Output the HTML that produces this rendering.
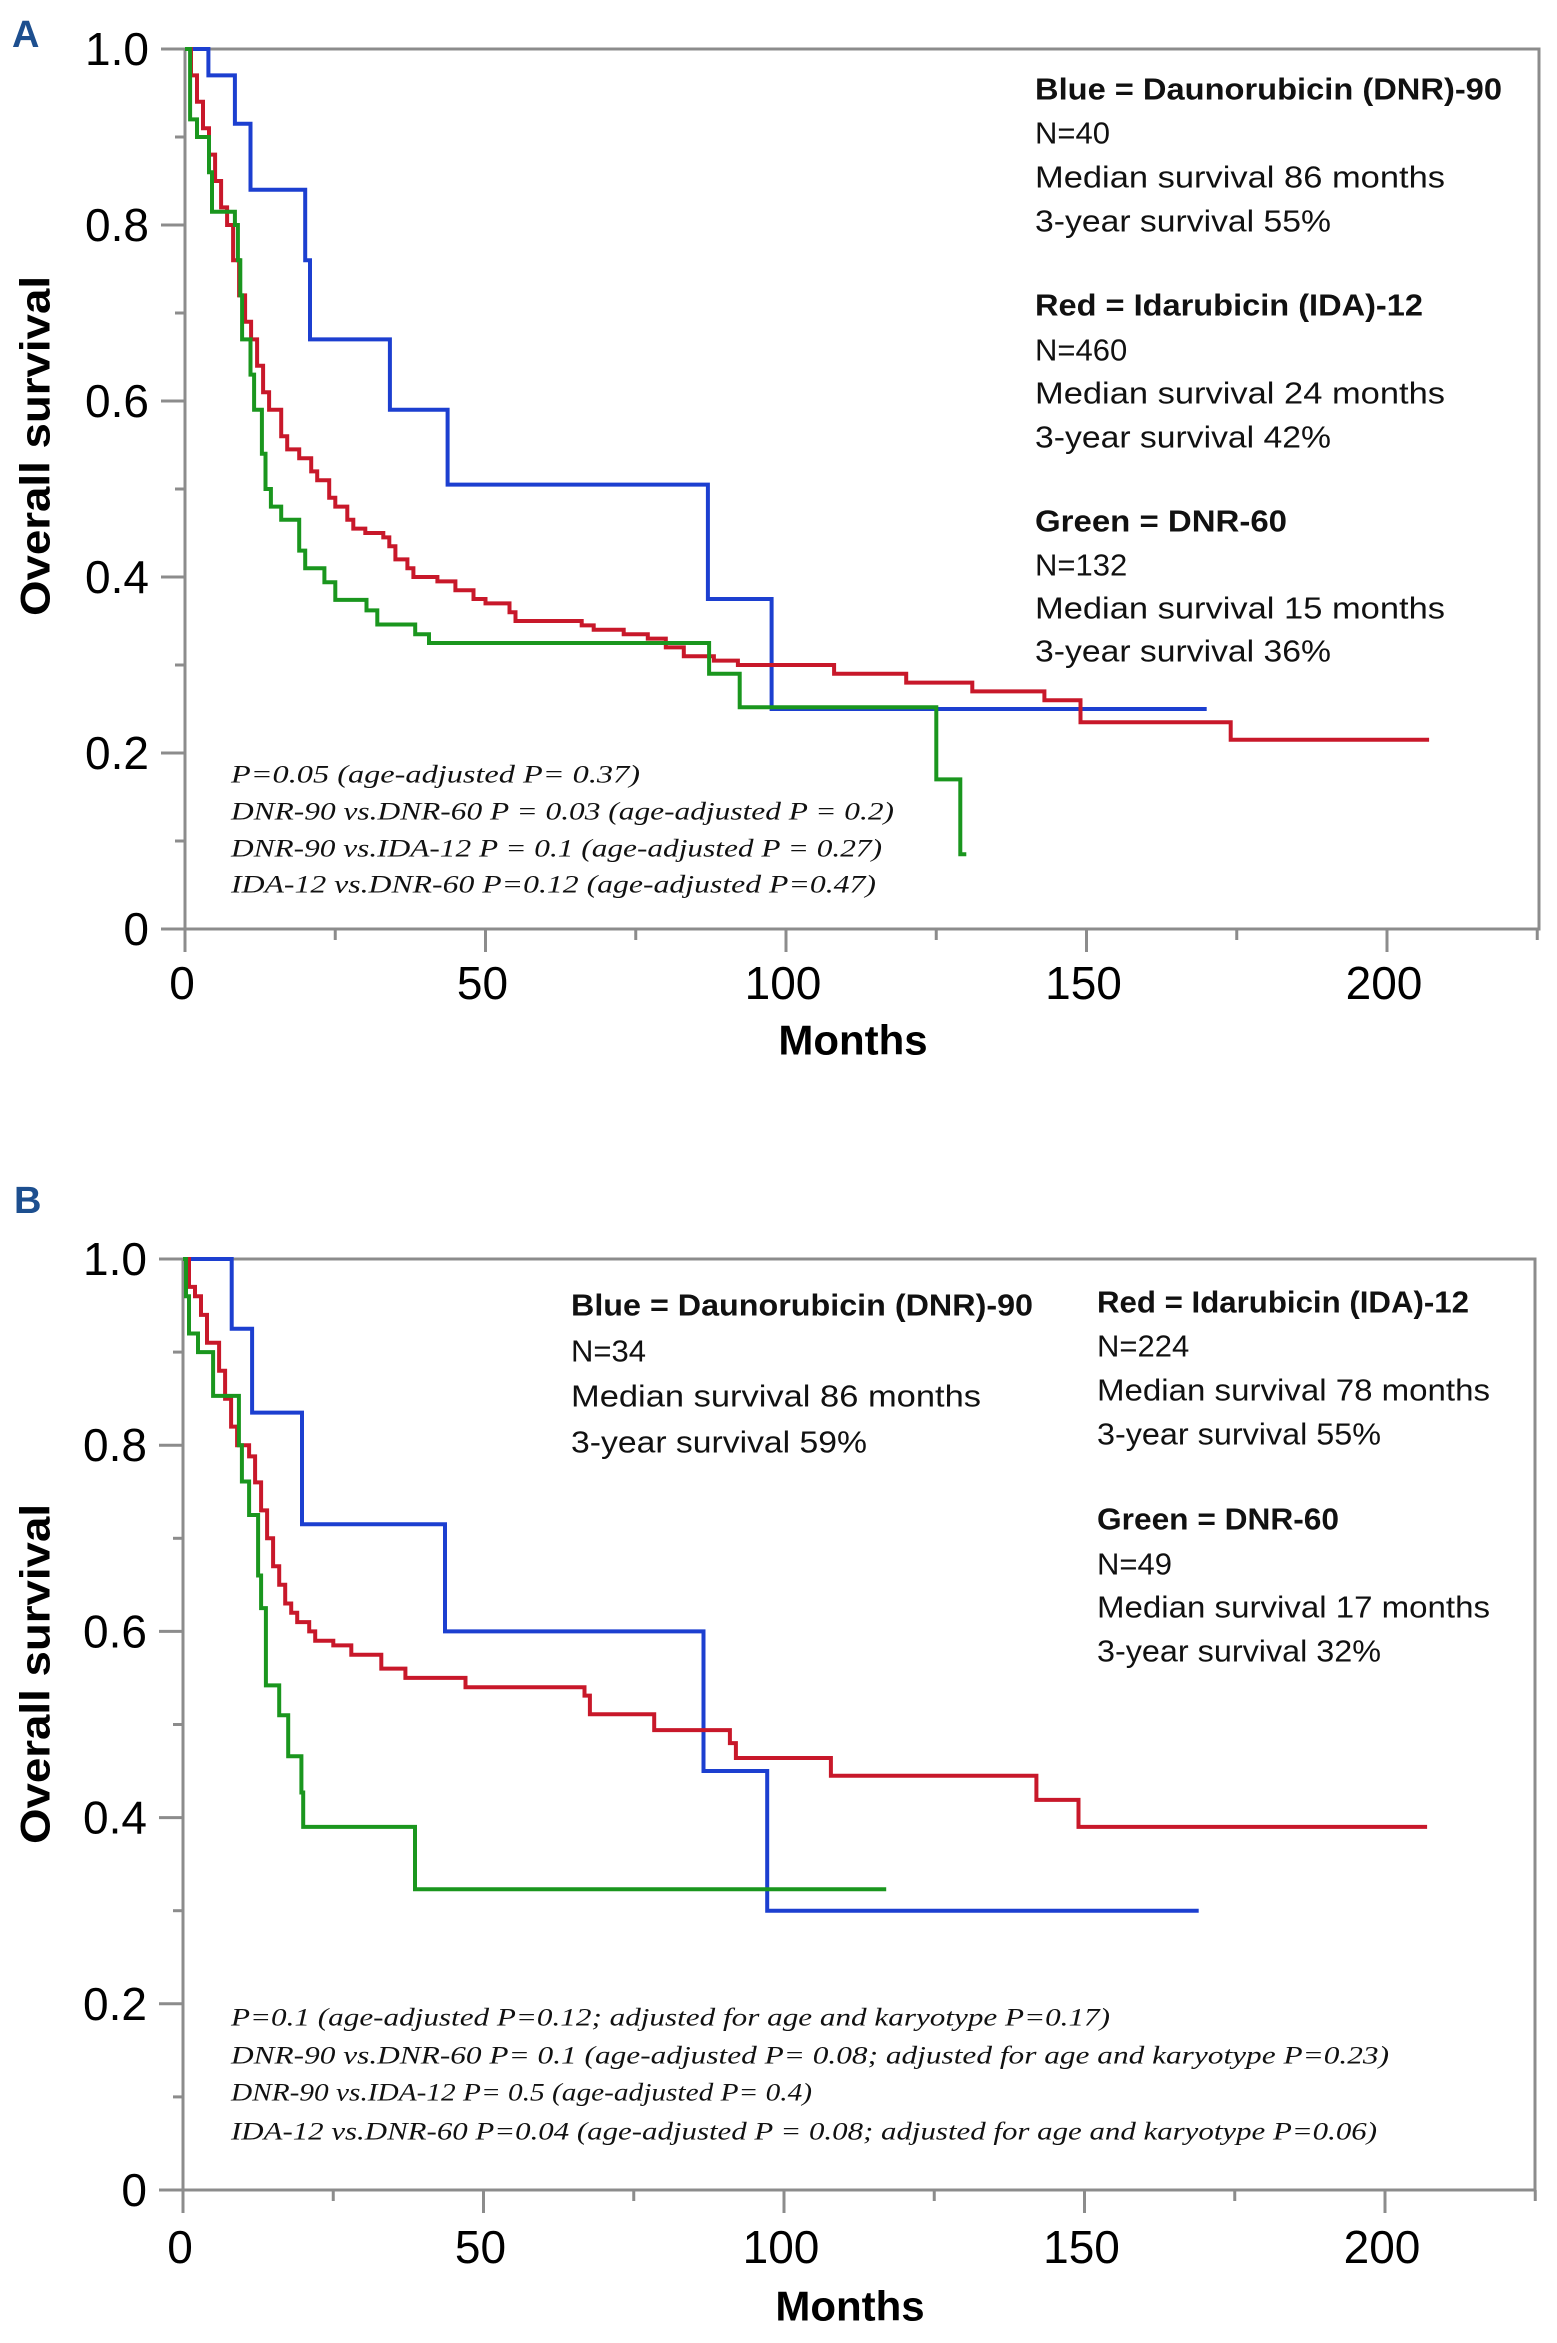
<!DOCTYPE html>
<html><head><meta charset="utf-8"><style>
html,body{margin:0;padding:0;background:#fff;}
svg{display:block;}
</style></head><body>
<svg id="fig" width="1557" height="2343" viewBox="0 0 1557 2343" xmlns="http://www.w3.org/2000/svg">
<text x="12" y="47" font-family="Liberation Sans, sans-serif" font-weight="bold" font-size="38" fill="#1d4f8f">A</text>
<text x="14" y="1213" font-family="Liberation Sans, sans-serif" font-weight="bold" font-size="38" fill="#1d4f8f">B</text>
</svg>
<script>
// ---------- Panel A data ----------
const xTicks = [0, 50, 100, 150, 200];
const yTicks = [0, 0.2, 0.4, 0.6, 0.8, 1.0];
const yTickLabels = ["0", "0.2", "0.4", "0.6", "0.8", "1.0"];
const aBlueT = [0, 3.9, 8.3, 10.9, 20, 20.8, 34.1, 43.7, 87, 97.6];
const aBlueS = [1.0, 0.97, 0.915, 0.84, 0.76, 0.67, 0.59, 0.505, 0.375, 0.25];
const aBlueEnd = 170;
const aRedT = [0,1,2,3,4,5,6,7,8,9,10,11,12,13,14,16,17,19,21,22,24,25,27,28,30,33,34,35,37,38,42,45,48,50,54,55,66,68,73,77,80,83,88,92,108,120,131,143,149,174];
const aRedS = [1,0.97,0.94,0.91,0.88,0.85,0.82,0.8,0.76,0.72,0.69,0.67,0.64,0.61,0.59,0.56,0.545,0.535,0.52,0.51,0.49,0.48,0.465,0.455,0.45,0.445,0.435,0.42,0.41,0.4,0.395,0.385,0.375,0.37,0.36,0.35,0.345,0.34,0.335,0.33,0.32,0.31,0.305,0.3,0.29,0.28,0.27,0.26,0.235,0.215];
const aRedEnd = 207;
const aGreenT = [0,0.85,2,4,4.5,8.3,8.8,9.2,9.5,10.9,11.5,12.8,13.4,14.3,16,19,20,23.2,25,30.2,32,38.3,40.6,87.2,92.3,125,129];
const aGreenS = [1,0.92,0.9,0.86,0.815,0.8,0.76,0.72,0.67,0.63,0.59,0.54,0.5,0.48,0.465,0.43,0.41,0.394,0.374,0.362,0.346,0.335,0.325,0.29,0.252,0.17,0.085];
const aGreenEnd = 130;
// ---------- Panel B data ----------
const bBlueT = [0, 8.1, 11.5, 19.8, 43.6, 86.6, 97.2];
const bBlueS = [1.0, 0.925, 0.835, 0.715, 0.6, 0.45, 0.3];
const bBlueEnd = 169;
const bRedT = [0,1,2,3,4,6,7,8,9,11,12,13,14,15,16,17,18,19,21,22,25,28,33,37,47,66.8,67.7,78.4,91,92,107.8,142,149];
const bRedS = [1,0.97,0.96,0.94,0.91,0.88,0.85,0.82,0.8,0.788,0.76,0.73,0.7,0.67,0.65,0.63,0.62,0.61,0.6,0.59,0.585,0.575,0.56,0.55,0.54,0.531,0.511,0.494,0.48,0.464,0.445,0.419,0.39];
const bRedEnd = 207;
const bGreenT = [0,0.5,1,2.5,5,9.3,9.8,11,12.5,13,13.8,16,17.5,19.7,20,38.6];
const bGreenS = [1,0.96,0.92,0.9,0.853,0.8,0.761,0.725,0.66,0.625,0.542,0.51,0.466,0.427,0.39,0.323];
const bGreenEnd = 117;

const NS = "http://www.w3.org/2000/svg";
const svg = document.getElementById('fig');
const SANS = "Liberation Sans, sans-serif";
const SERIF = "Liberation Serif, serif";

function mk(tag, attrs, parent) {
  const e = document.createElementNS(NS, tag);
  for (const k in attrs) e.setAttribute(k, attrs[k]);
  (parent || svg).appendChild(e);
  return e;
}

function panel(P) {
  const g = mk('g', {});
  
  
  const X = t => P.x0 + (t / 200) * (P.x200 - P.x0);
  const Y = s => P.y0 - s * (P.y0 - P.y1);
  const axc = '#8c8c8c';
  // frame
  const frame = mk('path', {d: `M${P.x0} ${Y(0)} H${P.xr} V${Y(1)} H${P.x0} Z`, fill: 'none', stroke: axc, 'stroke-width': 3}, g);
  
  
  // y ticks
  for (let v = 0; v <= 10; v++) {
    const major = v % 2 === 0;
    const tk = mk('line', {x1: P.x0 - (major ? 24 : 10), x2: P.x0, y1: Y(v / 10), y2: Y(v / 10), stroke: axc, 'stroke-width': 3}, g);
    
    
  }
  yTicks.forEach((v, i) => {
    const t = mk('text', {x: P.ylabX, y: Y(v), 'text-anchor': 'end', 'dominant-baseline': 'central', 'font-family': SANS, 'font-size': 46, fill: '#000'}, g);
    t.textContent = yTickLabels[i];
    
    
  });
  // x ticks
  for (let m = 0; m <= 225; m += 25) {
    const major = m % 50 === 0;
    const tk = mk('line', {x1: X(m), x2: X(m), y1: Y(0), y2: Y(0) + (major ? 23 : 11), stroke: axc, 'stroke-width': 3}, g);
    
    
  }
  xTicks.forEach(v => {
    const t = mk('text', {x: X(v) - 3, y: P.xlabY, 'text-anchor': 'middle', 'dominant-baseline': 'central', 'font-family': SANS, 'font-size': 46, fill: '#000'}, g);
    t.textContent = String(v);
    
    
  });
  // axis titles
  const xt = mk('text', {x: P.monthsX, y: P.monthsY, 'text-anchor': 'middle', 'dominant-baseline': 'central', 'font-family': SANS, 'font-weight': 'bold', 'font-size': 42, fill: '#000'}, g);
  xt.textContent = 'Months';
  
  
  const yt = mk('text', {x: 0, y: 0, 'text-anchor': 'middle', 'dominant-baseline': 'central', 'font-family': SANS, 'font-weight': 'bold', 'font-size': 42, fill: '#000', textLength: 340, lengthAdjust: 'spacingAndGlyphs', transform: `translate(${P.ytitleX},${P.ytitleY}) rotate(-90)`}, g);
  yt.textContent = 'Overall survival';
  
  
  // curves
  P.series.forEach(sr => {
    let d = `M${X(sr.t[0])} ${Y(sr.s[0])}`;
    for (let i = 1; i < sr.t.length; i++) {
      d += ` H${X(sr.t[i]).toFixed(1)} V${Y(sr.s[i]).toFixed(1)}`;
    }
    d += ` H${X(sr.end).toFixed(1)}`;
    const p = mk('path', {d: d, fill: 'none', stroke: sr.color, 'stroke-width': 4, 'stroke-linejoin': 'miter'}, g);
    
    
  });
  // legend text
  P.legend.forEach(L => {
    const t = mk('text', {x: L.x, y: L.y, 'dominant-baseline': 'central', 'font-family': SANS, 'font-size': 31, 'font-weight': L.bold ? 'bold' : 'normal', fill: '#111'}, g);
    if (L.w) { t.setAttribute('textLength', L.w); t.setAttribute('lengthAdjust', 'spacingAndGlyphs'); }
    t.textContent = L.text;
    
    
  });
  P.pvals.forEach(L => {
    const t = mk('text', {x: 231, y: L.y, 'dominant-baseline': 'central', 'font-family': SERIF, 'font-style': 'italic', 'font-size': 25, fill: '#111', textLength: L.w, lengthAdjust: 'spacingAndGlyphs'}, g);
    t.textContent = L.text;
    
    
  });
}

panel({
  id: 'panel-a', x0: 185, x200: 1387, xr: 1539, y0: 929, y1: 49,
  ylabX: 149, xlabY: 983, monthsX: 853, monthsY: 1040, ytitleX: 35, ytitleY: 446,
  series: [
    {name: 'curve-dnr90-blue', t: aBlueT, s: aBlueS, end: aBlueEnd, color: '#1c3fd0'},
    {name: 'curve-ida12-red', t: aRedT, s: aRedS, end: aRedEnd, color: '#c8182a'},
    {name: 'curve-dnr60-green', t: aGreenT, s: aGreenS, end: aGreenEnd, color: '#1a961e'}
  ],
  legend: [
    {x: 1035, y: 89, text: 'Blue = Daunorubicin (DNR)-90', bold: true, w: 467},
    {x: 1035, y: 133, text: 'N=40'},
    {x: 1035, y: 177, text: 'Median survival 86 months', w: 410},
    {x: 1035, y: 221, text: '3-year survival 55%', w: 296},
    {x: 1035, y: 305, text: 'Red = Idarubicin (IDA)-12', bold: true, w: 388},
    {x: 1035, y: 350, text: 'N=460'},
    {x: 1035, y: 393, text: 'Median survival 24 months', w: 410},
    {x: 1035, y: 437, text: '3-year survival 42%', w: 296},
    {x: 1035, y: 521, text: 'Green = DNR-60', bold: true, w: 252},
    {x: 1035, y: 565, text: 'N=132'},
    {x: 1035, y: 608, text: 'Median survival 15 months', w: 410},
    {x: 1035, y: 651, text: '3-year survival 36%', w: 296}
  ],
  pvals: [
    {y: 775, text: 'P=0.05 (age-adjusted  P= 0.37)', w: 409},
    {y: 812, text: 'DNR-90 vs.DNR-60 P = 0.03 (age-adjusted P = 0.2)', w: 663},
    {y: 849, text: 'DNR-90 vs.IDA-12 P = 0.1 (age-adjusted P = 0.27)', w: 651},
    {y: 885, text: 'IDA-12 vs.DNR-60 P=0.12 (age-adjusted P=0.47)', w: 645}
  ]
});

panel({
  id: 'panel-b', x0: 183, x200: 1385, xr: 1535, y0: 2190, y1: 1259,
  ylabX: 147, xlabY: 2247, monthsX: 850, monthsY: 2306, ytitleX: 35, ytitleY: 1674,
  series: [
    {name: 'curve-dnr90-blue', t: bBlueT, s: bBlueS, end: bBlueEnd, color: '#1c3fd0'},
    {name: 'curve-ida12-red', t: bRedT, s: bRedS, end: bRedEnd, color: '#c8182a'},
    {name: 'curve-dnr60-green', t: bGreenT, s: bGreenS, end: bGreenEnd, color: '#1a961e'}
  ],
  legend: [
    {x: 571, y: 1305, text: 'Blue = Daunorubicin (DNR)-90', bold: true, w: 462},
    {x: 571, y: 1351, text: 'N=34'},
    {x: 571, y: 1396, text: 'Median survival 86 months', w: 410},
    {x: 571, y: 1442, text: '3-year survival 59%', w: 296},
    {x: 1097, y: 1302, text: 'Red = Idarubicin (IDA)-12', bold: true, w: 372},
    {x: 1097, y: 1346, text: 'N=224'},
    {x: 1097, y: 1390, text: 'Median survival 78 months', w: 393},
    {x: 1097, y: 1434, text: '3-year survival 55%', w: 284},
    {x: 1097, y: 1519, text: 'Green = DNR-60', bold: true, w: 242},
    {x: 1097, y: 1564, text: 'N=49'},
    {x: 1097, y: 1607, text: 'Median survival 17 months', w: 393},
    {x: 1097, y: 1651, text: '3-year survival 32%', w: 284}
  ],
  pvals: [
    {y: 2018, text: 'P=0.1 (age-adjusted P=0.12; adjusted for age and karyotype P=0.17)', w: 879},
    {y: 2056, text: 'DNR-90 vs.DNR-60 P= 0.1 (age-adjusted P= 0.08; adjusted for age and karyotype P=0.23)', w: 1158},
    {y: 2093, text: 'DNR-90 vs.IDA-12 P= 0.5 (age-adjusted P= 0.4)', w: 581},
    {y: 2132, text: 'IDA-12 vs.DNR-60 P=0.04 (age-adjusted P = 0.08; adjusted for age and karyotype P=0.06)', w: 1146}
  ]
});
</script>
</body></html>
